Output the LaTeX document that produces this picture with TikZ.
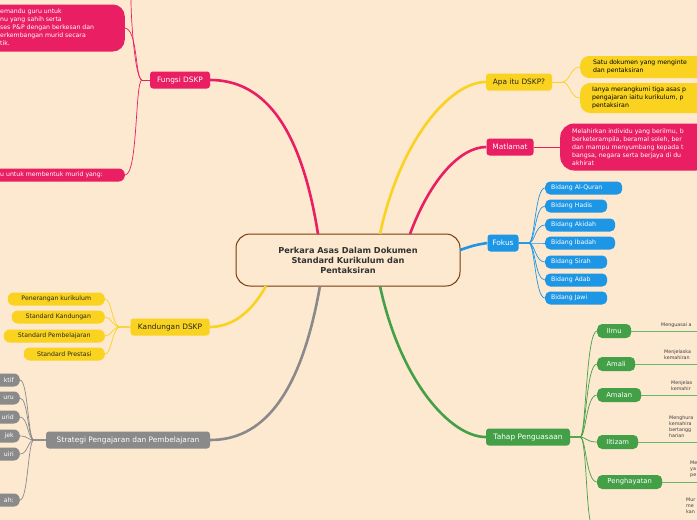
\documentclass[tikz,border=0pt]{standalone}
\usepackage{fontspec}
\setmainfont{DejaVu Sans}
\begin{document}
\begin{tikzpicture}[x=1pt,y=-1pt,
 base/.style={rounded corners=3pt,font=\fontsize{7.4}{9}\selectfont,inner sep=0pt,minimum height=17pt},
 pinkb/.style={base,fill=pinkc,text=white},
 yelb/.style={base,fill=yelc,text=black!85},
 blueb/.style={base,fill=bluec,text=white,minimum height=13pt,rounded corners=5pt,font=\fontsize{6.2}{7.5}\selectfont},
 greenb/.style={base,fill=greenc,text=white,minimum height=14pt,rounded corners=5pt,font=\fontsize{6.8}{8}\selectfont},
 greyb/.style={base,fill=greyc,text=white},
 sub/.style={rounded corners=6pt,inner sep=0pt,minimum height=13pt,font=\fontsize{6.2}{7.5}\selectfont},
 note/.style={font=\fontsize{6.2}{8}\selectfont,align=left,inner sep=0pt},
 small/.style={font=\fontsize{4.8}{6}\selectfont,align=left,inner sep=0pt,text=black!75},
]
\definecolor{bg}{HTML}{FDE8D0}
\definecolor{pinkc}{HTML}{E91E63}
\definecolor{yelc}{HTML}{F9D31F}
\definecolor{bluec}{HTML}{1E96E6}
\definecolor{greenc}{HTML}{43A047}
\definecolor{greyc}{HTML}{8A8A8A}
\definecolor{brownc}{HTML}{7A3B0A}
\fill[bg] (0,0) rectangle (697,520);
\useasboundingbox (0,0) rectangle (697,520);

% centre
\node[draw=brownc,line width=1pt,fill=bg,rounded corners=14pt,minimum width=224pt,minimum height=52pt,align=center,font=\bfseries\fontsize{8.2}{10}\selectfont,text=black!80] (c) at (348,260) {Perkara Asas Dalam Dokumen\\Standard Kurikulum dan\\Pentaksiran};

% main branches
\node[pinkb,minimum width=60pt] (fungsi) at (180,80) {Fungsi DSKP};
\node[yelb,minimum width=66pt] (apa) at (519,82) {Apa itu DSKP?};
\node[pinkb,minimum width=47pt] (mat) at (510,147) {Matlamat};
\node[base,fill=bluec,text=white,minimum width=31pt] (fokus) at (503,243) {Fokus};
\node[base,fill=greenc,text=white,minimum width=84pt] (tahap) at (528,437) {Tahap Penguasaan};
\node[yelb,minimum width=79pt] (kand) at (170,327) {Kandungan DSKP};
\node[greyb,minimum width=164pt] (strat) at (128,440) {Strategi Pengajaran dan Pembelajaran};

\begin{scope}[line width=2.6pt]
\draw[pinkc] (318,234) .. controls (300,120) and (260,80) .. (fungsi.east);
\draw[yelc] (266,286) .. controls (250,315) and (230,327) .. (kand.east);
\draw[greyc] (320,286) .. controls (300,400) and (260,440) .. (strat.east);
\draw[yelc] (380,234) .. controls (400,140) and (450,82) .. (apa.west);
\draw[pinkc] (410,234) .. controls (430,180) and (460,147) .. (mat.west);
\draw[bluec] (460,250) .. controls (475,245) .. (fokus.west);
\draw[greenc] (380,286) .. controls (400,380) and (450,437) .. (tahap.west);
\end{scope}

% Fungsi children
\node[sub,fill=pinkc,minimum width=140pt,minimum height=47pt,rounded corners=12pt,anchor=east] (f1) at (125,28) {};
\node[note,text=white,anchor=north west] at (0,9) {emandu guru untuk\\nu yang sahih serta\\ses P\&P dengan berkesan dan\\erkembangan murid secara\\tik.};
\node[sub,fill=pinkc,minimum width=140pt,anchor=east] (f2) at (125,175) {};
\node[note,text=white,anchor=west] at (0,175) {u untuk membentuk murid yang:};
\coordinate (f0) at (131,0);
\begin{scope}[pinkc,line width=0.7pt]
\draw (fungsi.west) -- ++(-8,0) coordinate (fj);
\draw (fj) .. controls (135,78) and (138,30) .. (f1.east);
\draw (fj) .. controls (135,82) and (138,175) .. (f2.east);
\draw (fj) .. controls (135,78) and (131,20) .. (f0);
\end{scope}

% Apa children
\node[sub,fill=yelc,minimum width=130pt,minimum height=22pt,rounded corners=9pt,anchor=west] (a1) at (580,67) {};
\node[note,anchor=west] at (593,67) {Satu dokumen yang menginte\\dan pentaksiran};
\node[sub,fill=yelc,minimum width=130pt,minimum height=30pt,rounded corners=10pt,anchor=west] (a2) at (580,98) {};
\node[note,anchor=west] at (592,98) {Ianya merangkumi tiga asas p\\pengajaran iaitu kurikulum, p\\pentaksiran};
\begin{scope}[yelc,line width=0.7pt]
\draw (apa.east) -- ++(10,0) coordinate (aj);
\draw (aj) .. controls (570,82) and (570,67) .. (a1.west);
\draw (aj) .. controls (570,82) and (570,98) .. (a2.west);
\end{scope}

% Matlamat child
\node[sub,fill=pinkc,minimum width=150pt,minimum height=47pt,rounded corners=14pt,anchor=west] (m1) at (560,147) {};
\node[note,text=white,anchor=west] at (572,147) {Melahirkan individu yang berilmu, b\\berketerampila, beramal soleh, ber\\dan mampu menyumbang kepada t\\bangsa, negara serta berjaya di du\\akhirat};
\draw[pinkc,line width=0.8pt] (mat.east) -- (m1.west);

% Fokus children
\foreach \n/\t/\y/\w in {b1/Bidang Al-Quran/188/77,b2/Bidang Hadis/206/62,b3/Bidang Akidah/225/70,b4/Bidang Ibadah/243/70,b5/Bidang Sirah/262/62,b6/Bidang Adab/280/62,b7/Bidang Jawi/298/62}{
 \node[blueb,minimum width=\w pt,anchor=west,align=left,text width=\w pt-12pt,inner xsep=6pt] (\n) at (545,\y) {\t};
 \draw[bluec,line width=0.7pt] (fokus.east) -- ++(10,0) .. controls (535,243) and (535,\y) .. (\n.west);
}

% Tahap children
\foreach \n/\t/\y/\w in {t1/Ilmu/331/34,t2/Amali/364/38,t3/Amalan/395/44,t4/Iltizam/442/41,t5/Penghayatan/482/65}{
 \node[greenb,minimum width=\w pt,anchor=west] (\n) at (597,\y) {\t};
 \draw[greenc,line width=0.7pt] (tahap.east) -- ++(10,0) coordinate (tj) .. controls (586,437) and (586,\y) .. (\n.west);
 \draw[greenc!80,line width=0.8pt] (\n.east) -- (697,\y);
}
\coordinate (t6) at (590,520);
\draw[greenc,line width=0.7pt] (tj) .. controls (586,437) and (586,500) .. (t6);
\node[small,anchor=south west] at (661,328) {Menguasai a};
\node[small,anchor=south west] at (664,360) {Menjelaska\\kemahiran};
\node[small,anchor=south west] at (671,391) {Menjelas\\kemahir};
\node[small,anchor=south west] at (669,438) {Menghura\\kemahira\\bertangg\\harian};
\node[small,anchor=south west] at (690,478) {Me\\ya\\pe};
\node[small,anchor=north west] at (686,498) {Mur\\me\\kan};

% Kandungan children
\foreach \n/\t/\y/\x in {k1/Penerangan kurikulum/299/8,k2/Standard Kandungan/317/12,k3/Standard Pembelajaran/336/4,k4/Standard Prestasi/354/24}{
 \node[sub,fill=yelc,text=black!85,minimum width=105pt-\x pt,anchor=east] (\n) at (105,\y) {\t};
 \draw[yelc,line width=0.7pt] (kand.west) -- ++(-10,0) .. controls (112,327) and (112,\y) .. (\n.east);
}

% Strategi children
\foreach \n/\t/\y in {s1/ktif/380,s2/uru/398,s3/urid/417,s4/jek/436,s5/uiri/454,s6/ah:/500}{
 \node[sub,fill=greyc,text=white,minimum width=40pt,anchor=east,align=right,text width=28pt,inner xsep=6pt] (\n) at (20,\y) {\t};
 \draw[greyc,line width=0.7pt] (strat.west) -- ++(-12,0) .. controls (28,440) and (28,\y) .. (\n.east);
}
\end{tikzpicture}
\end{document}
